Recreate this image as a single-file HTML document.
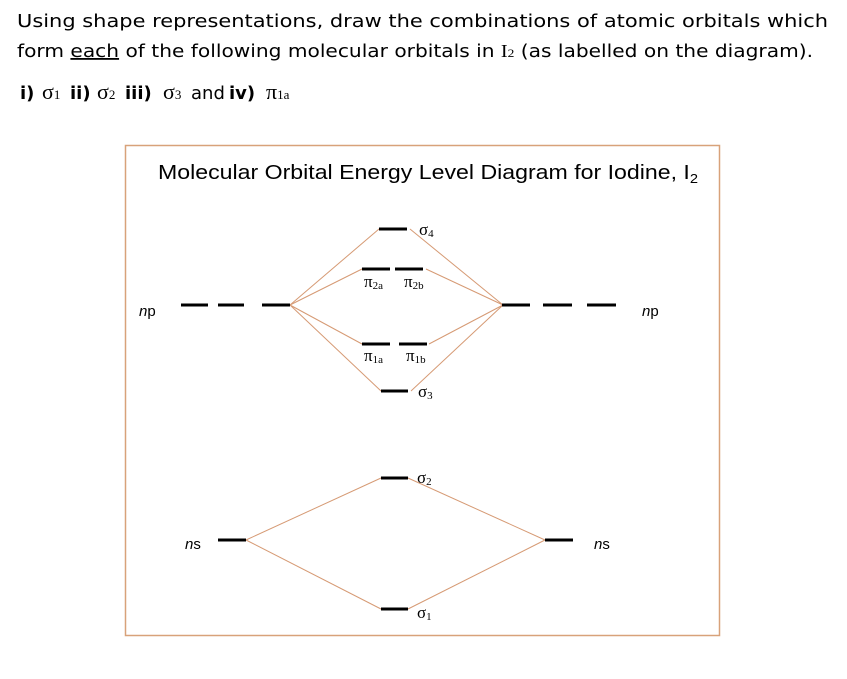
<!DOCTYPE html>
<html><head><meta charset="utf-8"><style>
html,body{margin:0;padding:0;background:#fff;width:847px;height:679px;overflow:hidden}
svg{display:block}
</style></head><body>
<svg width="847" height="679" viewBox="0 0 847 679" xmlns="http://www.w3.org/2000/svg">
<g font-family="DejaVu Sans, sans-serif" font-size="18" fill="#000">
<text x="17" y="27" textLength="811" lengthAdjust="spacingAndGlyphs">Using shape representations, draw the combinations of atomic orbitals which</text>
<text x="17" y="57" textLength="796" lengthAdjust="spacingAndGlyphs">form <tspan text-decoration="underline">each</tspan> of the following molecular orbitals in <tspan font-family="Liberation Serif, serif">I<tspan font-size="12">2</tspan></tspan> (as labelled on the diagram).</text>
</g>
<g font-size="18" fill="#000">
<text x="20" y="99" font-family="DejaVu Sans, sans-serif" font-weight="bold">i)</text>
<text x="42" y="99" font-family="Liberation Serif, serif" font-size="22">σ<tspan font-size="13">1</tspan></text>
<text x="70" y="99" font-family="DejaVu Sans, sans-serif" font-weight="bold">ii)</text>
<text x="97" y="99" font-family="Liberation Serif, serif" font-size="22">σ<tspan font-size="13">2</tspan></text>
<text x="125" y="99" font-family="DejaVu Sans, sans-serif" font-weight="bold">iii)</text>
<text x="163" y="99" font-family="Liberation Serif, serif" font-size="22">σ<tspan font-size="13">3</tspan></text>
<text x="191" y="99" font-family="DejaVu Sans, sans-serif">and</text>
<text x="229" y="99" font-family="DejaVu Sans, sans-serif" font-weight="bold">iv)</text>
<text x="266" y="99" font-family="Liberation Serif, serif" font-size="22">π<tspan font-size="13">1a</tspan></text>
</g>
<rect x="125.5" y="145.5" width="594" height="490" fill="none" stroke="#d8a27a" stroke-width="1.5"/>
<text x="158" y="179" font-family="Liberation Sans, sans-serif" font-size="20.5" textLength="540" lengthAdjust="spacingAndGlyphs">Molecular Orbital Energy Level Diagram for Iodine, I<tspan font-size="13" dy="4">2</tspan></text>
<g stroke="#d69a74" stroke-width="1">
<line x1="290" y1="305" x2="379" y2="229"/>
<line x1="290" y1="305" x2="362" y2="269"/>
<line x1="290" y1="305" x2="362" y2="344"/>
<line x1="290" y1="305" x2="381" y2="391"/>
<line x1="503" y1="305" x2="410" y2="229"/>
<line x1="503" y1="305" x2="426" y2="269"/>
<line x1="503" y1="305" x2="429" y2="344"/>
<line x1="503" y1="305" x2="411" y2="391"/>
<line x1="246" y1="540" x2="381" y2="478"/>
<line x1="246" y1="540" x2="381" y2="609"/>
<line x1="545" y1="540" x2="408" y2="478"/>
<line x1="545" y1="540" x2="408" y2="609"/>
</g>
<g stroke="#000" stroke-width="3">
<line x1="181" y1="305" x2="208" y2="305"/>
<line x1="218" y1="305" x2="244" y2="305"/>
<line x1="262" y1="305" x2="290" y2="305"/>
<line x1="502" y1="305" x2="530" y2="305"/>
<line x1="543" y1="305" x2="572" y2="305"/>
<line x1="587" y1="305" x2="616" y2="305"/>
<line x1="379" y1="229" x2="407" y2="229"/>
<line x1="362" y1="269" x2="390" y2="269"/>
<line x1="395" y1="269" x2="423" y2="269"/>
<line x1="362" y1="344" x2="390" y2="344"/>
<line x1="399" y1="344" x2="427" y2="344"/>
<line x1="381" y1="391" x2="408" y2="391"/>
<line x1="381" y1="478" x2="408" y2="478"/>
<line x1="218" y1="540" x2="246" y2="540"/>
<line x1="545" y1="540" x2="573" y2="540"/>
<line x1="381" y1="609" x2="408" y2="609"/>
</g>
<g font-family="Liberation Sans, sans-serif" font-size="15" fill="#000">
<text x="139" y="316"><tspan font-style="italic">n</tspan>p</text>
<text x="642" y="316"><tspan font-style="italic">n</tspan>p</text>
<text x="185" y="549"><tspan font-style="italic">n</tspan>s</text>
<text x="594" y="549"><tspan font-style="italic">n</tspan>s</text>
</g>
<g font-family="Liberation Serif, serif" font-size="17" fill="#000">
<text x="419" y="235">σ<tspan font-size="11" dy="2">4</tspan></text>
<text x="364" y="287">π<tspan font-size="11" dy="2">2a</tspan></text>
<text x="404" y="287">π<tspan font-size="11" dy="2">2b</tspan></text>
<text x="364" y="361">π<tspan font-size="11" dy="2">1a</tspan></text>
<text x="406" y="361">π<tspan font-size="11" dy="2">1b</tspan></text>
<text x="418" y="397">σ<tspan font-size="11" dy="2">3</tspan></text>
<text x="417" y="483">σ<tspan font-size="11" dy="2">2</tspan></text>
<text x="417" y="618">σ<tspan font-size="11" dy="2">1</tspan></text>
</g>
</svg>
</body></html>
